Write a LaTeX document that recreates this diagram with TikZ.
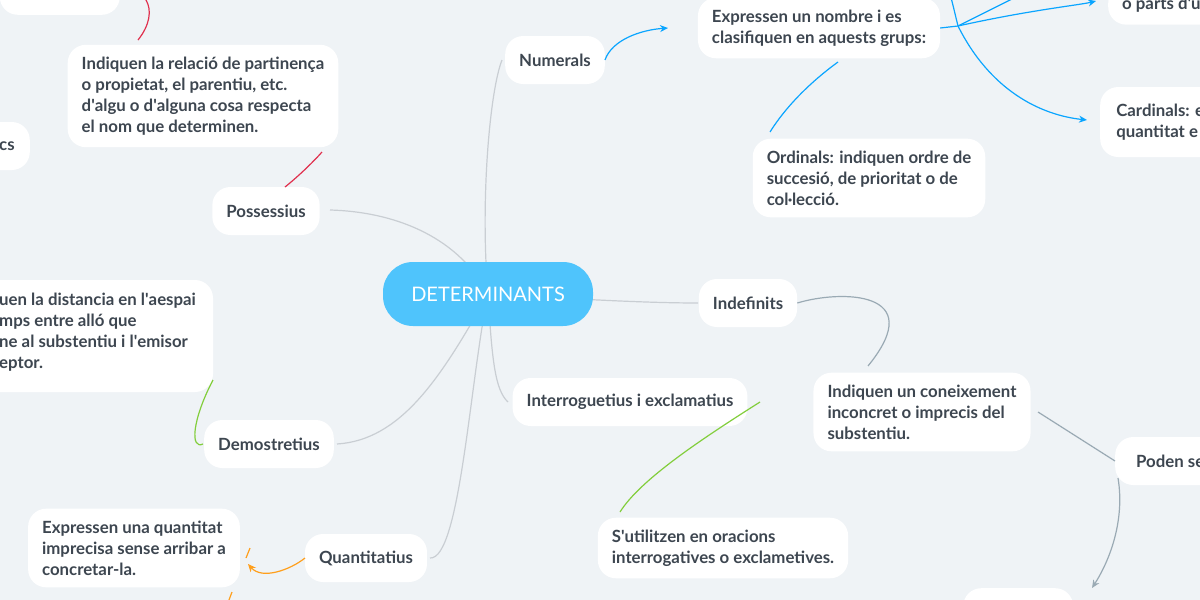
\documentclass[tikz,border=0pt]{standalone}
\usepackage{fontspec}
\setmainfont{Lato}
\usetikzlibrary{arrows.meta}
\definecolor{bg}{HTML}{EFF3F6}
\definecolor{txt}{HTML}{3D4650}
\definecolor{main}{HTML}{4FC4FC}
\definecolor{gl}{HTML}{C9CED3}
\definecolor{cblue}{HTML}{0AA5FF}
\definecolor{cred}{HTML}{E0304E}
\definecolor{cgreen}{HTML}{82CE3C}
\definecolor{corange}{HTML}{FF9F1C}
\definecolor{cgray}{HTML}{9AAAB4}
\newcommand{\q}{\textquotesingle}
\tikzset{
 box/.style={fill=white,rounded corners=18pt,text=txt,font=\fontsize{16.8}{21}\selectfont\bfseries,align=left,inner xsep=14pt,inner ysep=12pt},
 lbl/.style={box,minimum height=48pt},
 ed/.style={line width=1.2pt},
 arr/.style={ed,-{Stealth[length=8pt,width=7pt]}}
}
\begin{document}
\begin{tikzpicture}[x=1pt,y=-1pt]
\fill[bg] (0,0) rectangle (1200,600);
\useasboundingbox (0,0) rectangle (1200,600);
\clip (0,0) rectangle (1200,600);
\coordinate (c) at (488,294);
\draw[gl,ed] (c) .. controls (480,200) and (490,90) .. (502,60);
\draw[gl,ed] (c) .. controls (460,240) and (400,212) .. (330,210);
\draw[gl,ed] (c) .. controls (560,298) and (640,303) .. (698,303);
\draw[gl,ed] (c) .. controls (492,360) and (495,390) .. (508,402);
\draw[gl,ed] (c) .. controls (440,380) and (400,440) .. (337,444);
\draw[gl,ed] (c) .. controls (470,380) and (460,560) .. (430,558);
\node[box,fill=main,text=white,font=\fontsize{20}{24}\selectfont,minimum width=210pt,minimum height=64pt,rounded corners=30pt] (m) at (488,294) {DETERMINANTS};
\node[lbl] (num) at (555,60) {Numerals};
\node[lbl] (pos) at (266,211) {Possessius};
\node[lbl] (ind) at (748,303) {Indefinits};
\node[lbl] (int) at (630,402) {Interroguetius i exclamatius};
\node[lbl] (dem) at (269,444) {Demostretius};
\node[lbl] (qua) at (366,558) {Quantitatius};
\node[box] (exn) at (819,28) {Expressen un nombre i es\\clasifiquen en aquests grups:};
\node[box] (ord) at (869,178) {Ordinals: indiquen ordre de\\succesió, de prioritat o de\\col·lecció.};
\node[box,anchor=west,minimum width=120pt] (par) at (1108,5) {o parts d\q una};
\node[box,anchor=west,minimum height=70pt,minimum width=120pt] (car) at (1100,122) {Cardinals: e\\quantitat e};
\node[box] (ico) at (922,412) {Indiquen un coneixement\\inconcret o imprecis del\\substentiu.};
\node[lbl,anchor=west,minimum width=110pt] (pod) at (1115,461) {Poden se};
\node[box,anchor=north west,minimum width=110pt,minimum height=40pt] (bot) at (963,588) {};
\node[box] (uti) at (723,548) {S\q utilitzen en oracions\\interrogatives o exclametives.};
\node[box] (rel) at (203,96) {Indiquen la relació de partinença\\o propietat, el parentiu, etc.\\d\q algu o d\q alguna cosa respecta\\el nom que determinen.};
\node[box,anchor=south east,minimum width=120pt,minimum height=40pt] (tl) at (120,15) {};
\node[lbl,anchor=east,minimum width=60pt,inner xsep=14pt] (cs) at (30,146) {};
\node[box,fill=none,anchor=west,inner sep=0pt] (cst) at (-1,146) {cs};
\fill[white,rounded corners=18pt] (-40,280) rectangle (213,392);
\node[box,fill=none,anchor=north west,inner sep=0pt] (dis) at (-1,293) {uen la distancia en l\q aespai\\mps entre alló que\\ne al substentiu i l\q emisor\\eptor.};
\node[box] (eq) at (134,548) {Expressen una quantitat\\imprecisa sense arribar a\\concretar-la.};
\draw[cblue,arr] (num.east) .. controls (612,40) and (640,30) .. (668,28);
\coordinate (hub) at (958,26);
\draw[cblue,ed] (exn.east) -- (hub);
\draw[cblue,arr] (hub) .. controls (1030,10) and (1080,5) .. (1096,1);
\draw[cblue,ed] (hub) -- (1020,-5);
\draw[cblue,ed] (hub) .. controls (954,10) and (952,0) .. (950,-5);
\draw[cblue,arr] (hub) .. controls (990,90) and (1040,115) .. (1087,120);
\draw[cblue,ed] (770,132) .. controls (790,100) and (820,75) .. (838,62);
\draw[cred,ed] (285,187) .. controls (300,175) and (315,160) .. (322,152);
\draw[cred,ed] (138,40) .. controls (150,25) and (152,10) .. (146,0);
\draw[cgray,ed] (ind.east) .. controls (840,290) and (930,290) .. (868,366);
\draw[cgray,ed] (1038,412) -- (1115,461);
\draw[cgray,arr] (1118,478) .. controls (1125,520) and (1110,560) .. (1092,588);
\draw[cgreen,ed] (760,402) .. controls (700,440) and (640,480) .. (620,512);
\draw[cgreen,ed] (203,444) .. controls (190,450) and (192,420) .. (213,380);
\draw[corange,arr] (305,558) .. controls (290,570) and (262,580) .. (248,564);
\draw[corange,ed] (250,548) -- (246,558);
\draw[corange,ed] (232,592) -- (229,600);
\end{tikzpicture}
\end{document}
